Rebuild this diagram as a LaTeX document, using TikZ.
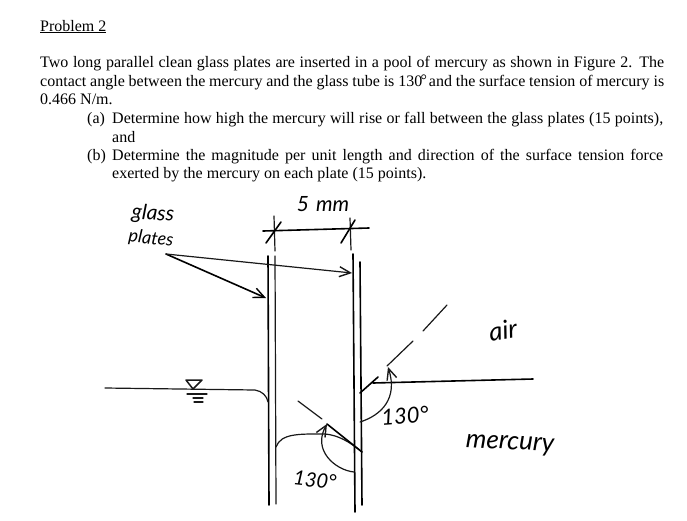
\documentclass[tikz,border=0pt]{standalone}
\usepackage{fontspec}
\setmainfont{Liberation Serif}
\newfontfamily\handfont{Lato}
\usetikzlibrary{arrows.meta}
\tikzset{
  x=1pt,y=-1pt,
  txt/.style={anchor=base west,inner sep=0pt,font=\fontsize{16}{18}\selectfont},
  hand/.style={anchor=center,inner sep=0pt,text=black},
  ink/.style={line width=1.2pt,line cap=round,line join=round,draw=black!90},
  heavy/.style={line width=1.6pt,line cap=round,line join=round,draw=black},
  thin ink/.style={line width=1.5pt,line cap=round,line join=round,draw=black!90},
  barb/.style={-{Straight Barb[length=11pt,width=10pt,line width=1.4pt]}},
}
\newcommand{\just}[2]{\makebox[#1pt][s]{#2}}
\newcommand{\hw}[1]{\handfont\itshape\fontsize{#1}{#1}\selectfont}
\begin{document}
\begin{tikzpicture}
\useasboundingbox (0,0) rectangle (687,520);
\fill[white] (0,0) rectangle (687,520);
% text
\node[txt] (title) at (40,31) {\underline{Problem 2}};
\node[txt] (l1) at (40,67) {\just{624}{Two long parallel clean glass plates are inserted in a pool of mercury as shown in Figure 2. The}};
\node[txt] (l2) at (40,86) {\just{624}{contact angle between the mercury and the glass tube is 130\kern-1.5pt\raisebox{1pt}{°}\kern-2pt{} and the surface tension of mercury is}};
\node[txt] (l3) at (40,104) {0.466 N/m.};
\node[txt] (a) at (87,123) {(a)};
\node[txt] (at) at (112,123) {\just{551}{Determine how high the mercury will rise or fall between the glass plates (15 points),}};
\node[txt] (and) at (112,142) {and};
\node[txt] (b) at (87,160) {(b)};
\node[txt] (bt) at (112,160) {\just{551}{Determine the magnitude per unit length and direction of the surface tension force}};
\node[txt] (bu) at (112,178) {exerted by the mercury on each plate (15 points).};
% handwritten labels
\node[hand,font=\hw{21},rotate=-4] (glass) at (153,214) {glass};
\node[hand,font=\hw{18},rotate=-6] (plates) at (151,239) {plates};
\node[hand,font=\hw{21}] (five) at (323,204) {5\,\,mm};
\node[hand,font=\hw{26},rotate=8] (air) at (503,330) {air};
\node[hand,font=\hw{26},rotate=-3] (merc) at (510,445) {mercury};
\node[hand,font=\hw{22},rotate=4] (ang1) at (405,416) {130°};
\node[hand,font=\hw{20},rotate=-6] (ang2) at (315,480) {130°};
% plates
\coordinate (p1t) at (268,256); \coordinate (p1b) at (269,505);
\coordinate (p2t) at (275,256); \coordinate (p2b) at (276,504);
\coordinate (p3t) at (353,254); \coordinate (p3b) at (355,512);
\coordinate (p4t) at (360,262); \coordinate (p4b) at (362,505);
\draw[heavy] (p1t) -- (p1b);
\draw[ink] (p2t) -- (p2b);
\draw[heavy] (p3t) -- (p3b);
\draw[heavy] (p4t) -- (p4b);
% dimension
\coordinate (d1) at (263,231); \coordinate (d2) at (369,228);
\draw[heavy] (d1) -- (d2);
\coordinate (t1a) at (274,216); \coordinate (t1b) at (275,251);
\coordinate (s1a) at (266,243); \coordinate (s1b) at (281,222);
\coordinate (t2a) at (350,218); \coordinate (t2b) at (351,250);
\coordinate (s2a) at (341,243); \coordinate (s2b) at (355,220);
\draw[ink] (t1a) -- (t1b);
\draw[heavy] (s1a) -- (s1b);
\draw[ink] (t2a) -- (t2b);
\draw[heavy] (s2a) -- (s2b);
% pointer arrows
\coordinate (ps) at (166,254);
\coordinate (pa) at (266,298);
\coordinate (pb) at (352,273);
\draw[heavy,barb] (ps) -- (pa);
\draw[ink,barb] (ps) -- (pb);
% left pool surface
\coordinate (ls) at (105,388);
\draw[ink] (ls) -- (255,390) .. controls (262,391) and (267,396) .. (268,402);
% water level symbol
\draw[thin ink] (186,380) -- (202,380) -- (193,389) -- cycle;
\draw[ink] (187,394) -- (207,394);
\draw[ink] (193,398) -- (203,398);
\draw[ink] (194,402) -- (203,402);
% right pool surface
\coordinate (rc) at (360,393);
\coordinate (rt) at (378,377);
\coordinate (re) at (533,379);
\draw[heavy] (rc) -- (rt);
\draw[heavy] (373,383) -- (re);
\coordinate (ra) at (387,366);
\coordinate (rb) at (413,341);
\coordinate (rd) at (423,331);
\coordinate (rf) at (447,305);
\draw[ink] (ra) -- (rb);
\draw[ink] (rd) -- (rf);
\draw[ink,barb] (360,422) .. controls (382,415) and (398,398) .. (388,367);
% inner meniscus
\coordinate (mt) at (327,424);
\coordinate (me) at (362,452);
\draw[ink] (276,447) .. controls (281,433) and (300,434) .. (325,434)
  .. controls (338,435) and (350,442) .. (me);
\draw[heavy] (mt) -- (me);
\coordinate (e1) at (298,401);
\coordinate (e2) at (322,419);
\draw[ink] (e1) -- (e2);
\draw[ink,barb] (354,472) .. controls (335,470) and (312,450) .. (327,424);
\end{tikzpicture}
\end{document}
